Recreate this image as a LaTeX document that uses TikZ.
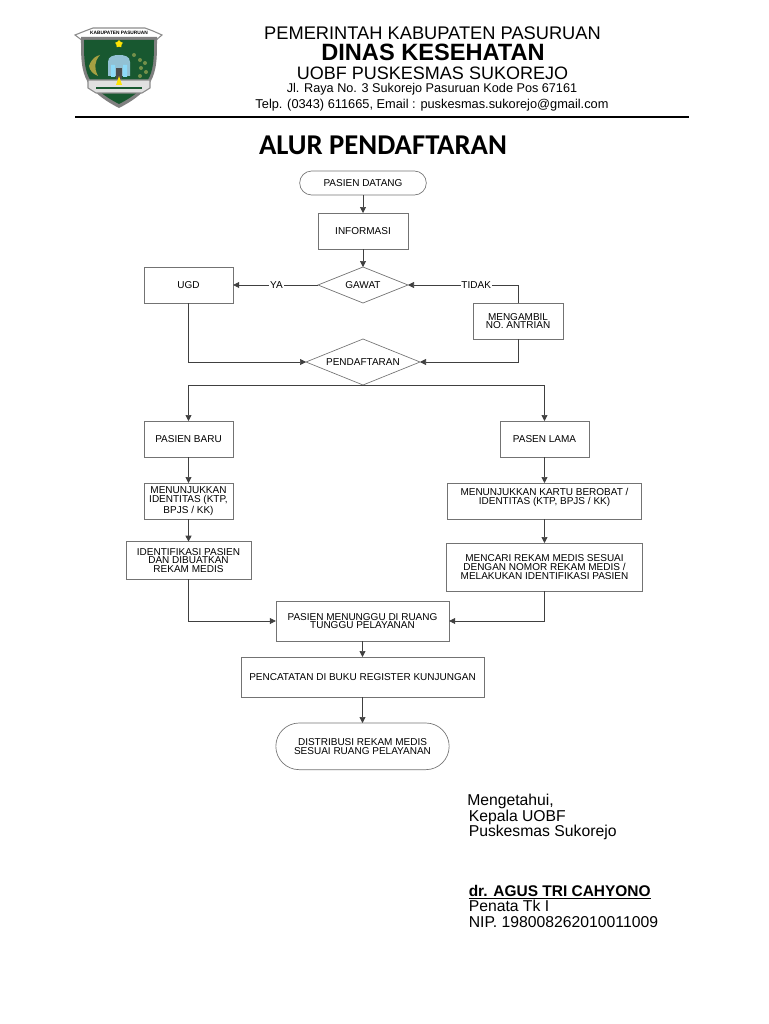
\documentclass[tikz,border=0pt]{standalone}
\usepackage{fontspec}
\setmainfont{Liberation Sans}
\newfontfamily\titlefont{Carlito}
\usetikzlibrary{arrows.meta,positioning,shapes.geometric}
\definecolor{logogreen}{RGB}{24,88,48}
\tikzset{
  blk/.style={draw=black!55,rectangle,line width=0.5pt,inner sep=0pt,outer sep=0pt,align=center,font=\fontsize{7.5}{6.5}\selectfont},
  termblk/.style={blk,rounded corners=#1},
  dmd/.style={blk,diamond,aspect=2.5},
  arr/.style={-{Triangle[length=4.5pt,width=4.5pt]},line width=0.5pt,draw=black!75},
  lbl/.style={font=\fontsize{7.5}{6.5}\selectfont,fill=white,inner sep=0.6pt,outer sep=0pt},
  hdr/.style={anchor=center,inner sep=0pt,align=center},
  sign/.style={anchor=base west,inner sep=0pt,font=\fontsize{11.8}{13}\selectfont}
}
\begin{document}
\begin{tikzpicture}[x=0.75pt,y=-0.75pt]
  \useasboundingbox (0,0) rectangle (768,1024);

  % logo
  \draw[black!45,fill=white,line width=0.8pt] (75,35) -- (85,31) -- (93,28) -- (145,28) -- (153,31) -- (162,35) -- (155,41) -- (83,41) -- cycle;
  \fill[black!50] (81,37) .. controls (81,70) and (80,88) .. (119,108) .. controls (158,88) and (157,70) .. (157,37) -- cycle;
  \fill[logogreen] (84,40) .. controls (84,70) and (84,86) .. (119,104) .. controls (154,86) and (154,70) .. (154,40) -- cycle;
  \node[inner sep=0pt,font=\fontsize{3.6}{4}\selectfont\bfseries] (logotext) at (119,32.5) {KABUPATEN PASURUAN};
  \node[star,star points=5,fill=yellow!85!orange,inner sep=0pt,minimum size=6pt] (logostar) at (119,44) {};
  \fill[black!35!cyan!50!white] (108,76) -- (108,62) .. controls (108,56) and (114,55) .. (119,55) .. controls (124,55) and (130,56) .. (130,62) -- (130,76) -- cycle;
  \fill[cyan!45!white] (111,65) rectangle (115,77) (123,65) rectangle (127,77);
  \fill[black!70] (116,68) rectangle (122,79);
  \fill[yellow!60!black] (89,66) .. controls (92,58) and (96,56) .. (100,55) .. controls (94,62) and (94,68) .. (98,76) .. controls (93,74) and (90,71) .. (89,66) -- cycle;
  \fill[yellow!50!green!60!black] (134,55) circle (2) (140,60) circle (2) (145,63) circle (2) (141,68) circle (2) (146,72) circle (2) (140,76) circle (2);
  \draw[black!45,fill=black!12,line width=0.8pt] (88,80) -- (150,80) -- (150,88) -- (142,93) -- (96,93) -- (88,88) -- cycle;
  \draw[logogreen,line width=1.2pt] (96,88) -- (142,88);
  \fill[yellow!85!orange] (119,76) -- (122,85) -- (116,85) -- cycle;

  % header
  \node[hdr,font=\fontsize{13.7}{15}\selectfont] (pemda) at (432.5,33) {PEMERINTAH KABUPATEN PASURUAN};
  \node[hdr,font=\fontsize{17.7}{19}\selectfont\bfseries] (dinas) at (433,52.5) {DINAS KESEHATAN};
  \node[hdr,font=\fontsize{13.5}{15}\selectfont] (uobf) at (432.5,73) {UOBF PUSKESMAS SUKOREJO};
  \node[hdr,font=\fontsize{9.5}{11}\selectfont] (alamat) at (432,89) {Jl. Raya No. 3 Sukorejo Pasuruan Kode Pos 67161};
  \node[hdr,font=\fontsize{9.6}{11}\selectfont] (telp) at (432,105) {Telp. (0343) 611665, Email : puskesmas.sukorejo@gmail.com};
  \coordinate (garisa) at (75,117);
  \coordinate (garisb) at (689,117);
  \draw[line width=2pt] (garisa) -- (garisb);
  \node[hdr,font=\fontsize{21.5}{23}\selectfont\bfseries\titlefont] (judul) at (383,145) {ALUR PENDAFTARAN};

  % flow
  \node[termblk=9pt,minimum width=95pt,minimum height=18pt] (datang) at (363,183) {PASIEN DATANG};
  \node[blk,minimum width=67.5pt,minimum height=27pt,below=13.5pt of datang] (info) {INFORMASI};
  \node[dmd,minimum width=67.5pt,minimum height=27pt,below=13.5pt of info] (gawat) {GAWAT};
  \node[blk,minimum width=67pt,minimum height=27pt] (ugd) at (188.5,285) {UGD};
  \node[blk,minimum width=67.5pt,minimum height=27pt] (ambil) at (518,321) {MENGAMBIL\\NO. ANTRIAN};
  \node[dmd,minimum width=85.5pt,minimum height=34.5pt] (daftar) at (363,362) {PENDAFTARAN};

  \node[blk,minimum width=67pt,minimum height=27pt] (baru) at (188.5,439) {PASIEN BARU};
  \node[blk,minimum width=67pt,minimum height=27pt,below=19.5pt of baru] (tunjuk) {MENUNJUKKAN\\IDENTITAS (KTP,\\BPJS / KK)};
  \node[blk,minimum width=94pt,minimum height=28pt,below=17pt of tunjuk] (identif) {IDENTIFIKASI PASIEN\\DAN DIBUATKAN\\REKAM MEDIS};

  \node[blk,minimum width=67pt,minimum height=27pt] (lama) at (544.5,439) {PASEN LAMA};
  \node[blk,minimum width=145.5pt,minimum height=27pt,below=19.5pt of lama] (kartu) {MENUNJUKKAN KARTU BEROBAT /\\IDENTITAS (KTP, BPJS / KK)\\~};
  \node[blk,minimum width=147pt,minimum height=36pt,below=18pt of kartu] (rekam) {MENCARI REKAM MEDIS SESUAI\\DENGAN NOMOR REKAM MEDIS /\\MELAKUKAN IDENTIFIKASI PASIEN};

  \node[blk,minimum width=130pt,minimum height=30pt] (tunggu) at (362.5,621) {PASIEN MENUNGGU DI RUANG\\TUNGGU PELAYANAN};
  \node[blk,minimum width=182pt,minimum height=30pt,below=12pt of tunggu] (catat) {PENCATATAN DI BUKU REGISTER KUNJUNGAN};
  \node[termblk=17.5pt,minimum width=130pt,minimum height=35pt,below=19.5pt of catat] (distribusi) {DISTRIBUSI REKAM MEDIS\\SESUAI RUANG PELAYANAN};

  \draw[arr] (datang)--(info);
  \draw[arr] (info)--(gawat);
  \draw[arr] (gawat.west)--(ugd.east) node[pos=0.49,lbl]{YA};
  \draw[arr] (ambil.north) |- (gawat.east) node[pos=0.69,lbl]{TIDAK};
  \draw[arr] (ugd.south) |- (daftar.west);
  \draw[arr] (ambil.south) |- (daftar.east);
  \draw[arr] (daftar.south) -| (baru.north);
  \draw[arr] (daftar.south) -| (lama.north);
  \draw[arr] (baru)--(tunjuk);
  \draw[arr] (tunjuk)--(identif);
  \draw[arr] (lama)--(kartu);
  \draw[arr] (kartu)--(rekam);
  \draw[arr] (identif.south) |- (tunggu.west);
  \draw[arr] (rekam.south) |- (tunggu.east);
  \draw[arr] (tunggu)--(catat);
  \draw[arr] (catat)--(distribusi);

  % sign
  \node[sign] (tahu) at (467,805) {Mengetahui,};
  \node[sign] (kepala) at (468.5,821) {Kepala UOBF};
  \node[sign] (pkm) at (468.5,836) {Puskesmas Sukorejo};
  \node[sign,font=\fontsize{11.6}{13}\selectfont\bfseries] (dokter) at (468.5,896.5) {dr. AGUS TRI CAHYONO};
  \draw[line width=0.6pt] ([yshift=-1.2pt]dokter.base west) -- ([yshift=-1.2pt]dokter.base east);
  \node[sign] (penata) at (468.5,911.5) {Penata Tk I};
  \node[sign] (nip) at (468.5,927) {NIP. 198008262010011009};
\end{tikzpicture}
\end{document}
